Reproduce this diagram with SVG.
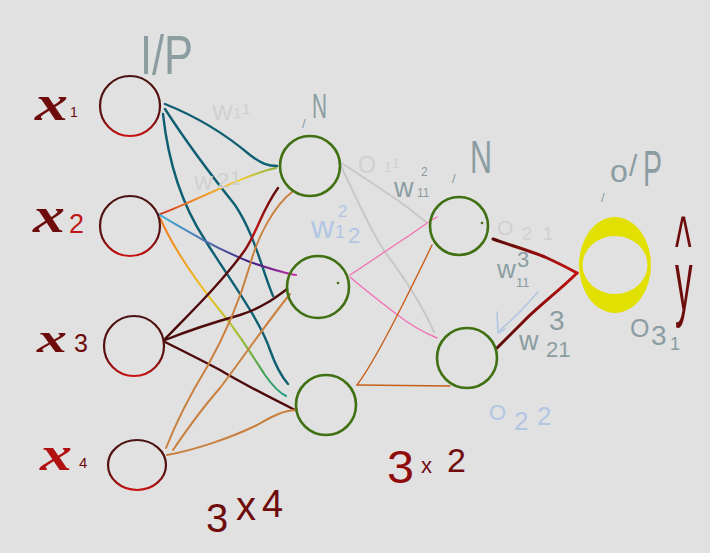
<svg xmlns="http://www.w3.org/2000/svg" width="710" height="553" viewBox="0 0 710 553">
<style>
.in{fill:none;stroke:url(#inGrad);stroke-width:2.2}
.hid{fill:none;stroke:#3f7012;stroke-width:2.6}
.c{fill:none;stroke-linecap:round;stroke-linejoin:round}
.teal{stroke:#0f5f72;stroke-width:2.4}
.maroon{stroke:#4e0a0a;stroke-width:2.4}
.tan{stroke:#c9803f;stroke-width:2}
.gray{stroke:#c8c8c8;stroke-width:2}
.pink{stroke:#f272b4;stroke-width:1.4}
.rust{stroke:#c8601c;stroke-width:1.4}
.out{stroke:url(#outGrad);stroke-width:3}
.g{font-family:"Liberation Sans",Arial,sans-serif;fill:#8b9da1}
.f{font-family:"Liberation Sans",Arial,sans-serif;fill:#d0d0d0}
.lb{font-family:"Liberation Sans",Arial,sans-serif;fill:#b3c6e4}
.r{font-family:"Liberation Serif","Times New Roman",serif;font-style:italic;font-weight:bold;fill:#6e0c0c}
.rs{font-family:"Liberation Sans",Arial,sans-serif;fill:#6e0c0c}
</style>
<defs>
<linearGradient id="inGrad" x1="0" y1="0" x2="0" y2="1">
<stop offset="0" stop-color="#4a1212"/><stop offset="0.65" stop-color="#5a1010"/><stop offset="1" stop-color="#c81212"/>
</linearGradient>
<linearGradient id="outGrad" x1="0" y1="0" x2="1" y2="0">
<stop offset="0" stop-color="#5a0808"/><stop offset="1" stop-color="#c01010"/>
</linearGradient>
<linearGradient id="g21" gradientUnits="userSpaceOnUse" x1="158" y1="215" x2="276" y2="168">
<stop offset="0" stop-color="#d03020"/><stop offset="0.35" stop-color="#f09020"/><stop offset="0.7" stop-color="#f0d040"/><stop offset="1" stop-color="#8cb030"/>
</linearGradient>
<linearGradient id="g22" gradientUnits="userSpaceOnUse" x1="158" y1="214" x2="296" y2="275">
<stop offset="0" stop-color="#40b4d8"/><stop offset="0.4" stop-color="#5068a8"/><stop offset="0.7" stop-color="#3c1c80"/><stop offset="1" stop-color="#c830a8"/>
</linearGradient>
<linearGradient id="g23" gradientUnits="userSpaceOnUse" x1="160" y1="218" x2="286" y2="396">
<stop offset="0" stop-color="#f07820"/><stop offset="0.4" stop-color="#f0c020"/><stop offset="0.65" stop-color="#a0c030"/><stop offset="0.85" stop-color="#40a050"/><stop offset="1" stop-color="#20a088"/>
</linearGradient>
<linearGradient id="g31" gradientUnits="userSpaceOnUse" x1="164" y1="340" x2="278" y2="188">
<stop offset="0" stop-color="#4a0808"/><stop offset="0.55" stop-color="#5a0a0a"/><stop offset="0.75" stop-color="#c01414"/><stop offset="1" stop-color="#5a0a0a"/>
</linearGradient>
</defs>
<rect width="710" height="553" fill="#e1e1e1"/>

<g id="connectors">
<path class="c teal" d="M165,104 C205,120 230,138 250,155 C262,164 268,166 277,166"/>
<path class="c teal" d="M165,109 C185,140 215,180 235,205 C255,235 262,270 273,296"/>
<path class="c teal" d="M163,114 C168,160 182,205 205,240 C230,280 260,320 270,350 C276,367 282,377 288,384"/>
<path class="c" stroke="url(#g21)" stroke-width="2" d="M158,215 C185,205 215,190 240,180 C255,174 265,170 276,168"/>
<path class="c" stroke="url(#g22)" stroke-width="2" d="M158,214 C185,230 215,248 250,262 C268,268 283,273 296,275"/>
<path class="c" stroke="url(#g23)" stroke-width="2" d="M160,218 C172,245 195,280 222,313 C240,335 255,360 265,375 C272,385 278,392 286,396"/>
<path class="c" stroke="url(#g31)" stroke-width="2.4" d="M164,340 C185,318 220,285 245,250 C258,230 262,210 278,188"/>
<path class="c maroon" d="M165,340 C190,330 215,322 240,315 C262,308 275,298 287,289"/>
<path class="c maroon" d="M165,342 C185,352 205,362 220,370 C245,385 265,395 295,410"/>
<path class="c tan" d="M166,448 C175,425 190,395 207,367 C225,335 240,300 250,265 C258,235 275,205 292,192"/>
<path class="c tan" d="M173,450 C190,425 205,405 220,388 C245,355 265,325 290,294"/>
<path class="c tan" d="M167,455 C195,450 230,438 255,426 C270,418 282,410 297,410"/>
<path class="c gray" d="M340,162 C360,175 375,185 390,195 C405,205 415,213 426,222"/>
<path class="c gray" d="M340,164 C355,195 370,230 385,252 C400,272 420,300 434,332"/>
<path class="c pink" d="M350,275 C370,262 390,248 410,235 C420,228 428,222 437,217"/>
<path class="c pink" d="M350,277 C365,290 378,300 395,313 C410,325 425,333 437,338"/>
<path class="c rust" d="M357,385 C372,365 390,330 405,300 C415,280 425,260 432,245"/>
<path class="c rust" d="M357,385 L450,386"/>
<path class="c out" d="M493,239 C510,245 530,251 545,257 C558,263 568,268 577,273"/>
<path class="c out" d="M577,273 C560,290 540,305 525,320 C512,333 503,342 497,348"/>
</g>

<g id="x1"><circle class="in" cx="130" cy="106" r="30"/>
<text class="r" x="35" y="120" font-size="50" textLength="33" lengthAdjust="spacingAndGlyphs">x</text>
<text class="rs" x="70" y="117" font-size="14">1</text></g>
<g id="x2"><circle class="in" cx="130" cy="226" r="30"/>
<text class="r" x="33" y="232" font-size="50" textLength="32" lengthAdjust="spacingAndGlyphs">x</text>
<text class="rs" x="69" y="233" font-size="27" style="fill:#c01818">2</text></g>
<g id="x3"><circle class="in" cx="134" cy="346" r="30"/>
<text class="r" x="37" y="352" font-size="40" textLength="30" lengthAdjust="spacingAndGlyphs">x</text>
<text class="rs" x="74" y="352" font-size="25">3</text></g>
<g id="x4"><ellipse class="in" cx="137" cy="465" rx="29" ry="25"/>
<text class="r" x="40" y="470" font-size="48" textLength="32" lengthAdjust="spacingAndGlyphs" style="fill:#b01010">x</text>
<text class="rs" x="79" y="468" font-size="15">4</text></g>

<g id="h1"><circle class="hid" cx="310" cy="166" r="30"/></g>
<g id="h2"><circle class="hid" cx="318" cy="287" r="31"/><circle cx="338" cy="283" r="1.3" fill="#3f7012"/></g>
<g id="h3"><circle class="hid" cx="326" cy="405" r="30"/></g>
<g id="h4"><circle class="hid" cx="459" cy="226" r="29"/><circle cx="482" cy="223" r="1.3" fill="#3f7012"/></g>
<g id="h5"><circle class="hid" cx="467" cy="358" r="30"/></g>
<g id="output"><path fill="#e2e000" fill-rule="evenodd" d="M579,265 A36,48 0 1,0 651,265 A36,48 0 1,0 579,265 Z M582.5,265 A32.5,29 0 1,0 647.5,265 A32.5,29 0 1,0 582.5,265 Z"/></g>

<g id="labels">
<text class="g" x="140" y="74" font-size="56" textLength="53" lengthAdjust="spacingAndGlyphs">I/P</text>
<text class="g" x="302" y="128" font-size="13">/</text>
<text class="g" x="312" y="118" font-size="35" textLength="15" lengthAdjust="spacingAndGlyphs">N</text>
<text class="g" x="452" y="183" font-size="13">/</text>
<text class="g" x="470" y="173" font-size="46" textLength="22" lengthAdjust="spacingAndGlyphs">N</text>
<text class="g" font-size="13"><tspan x="601" y="202">/</tspan><tspan x="610" y="182" font-size="32">o</tspan><tspan x="629" y="176" font-size="30">/</tspan></text>
<text class="g" x="643" y="186" font-size="50" textLength="19" lengthAdjust="spacingAndGlyphs">P</text>

<text class="f" font-size="15"><tspan x="212" y="120" font-size="22">W</tspan><tspan x="233" y="118">1</tspan><tspan x="242" y="114">1</tspan></text>
<text class="f" font-size="20"><tspan x="194" y="190">W</tspan><tspan x="217" y="188" font-size="22">2</tspan><tspan x="230" y="185">1</tspan></text>
<text class="f" font-size="14"><tspan x="358" y="173" font-size="23">O</tspan><tspan x="384" y="172">1</tspan><tspan x="392" y="168">1</tspan></text>
<text class="f" font-size="18"><tspan x="497" y="235" font-size="21">O</tspan><tspan x="522" y="240">2</tspan><tspan x="543" y="240">1</tspan></text>

<text class="lb" font-size="18"><tspan x="311" y="238" font-size="32">w</tspan><tspan x="335" y="238">1</tspan><tspan x="338" y="217" font-size="17">2</tspan><tspan x="348" y="243" font-size="22">2</tspan></text>
<path class="c" stroke="#b3c6e4" stroke-width="1.6" d="M497,312 L498,333 L505,329 M500,330 C515,318 528,303 538,292"/>
<text class="lb" font-size="22"><tspan x="489" y="420">O</tspan><tspan x="514" y="430" font-size="26">2</tspan><tspan x="537" y="425" font-size="26">2</tspan></text>

<text class="g" font-size="12"><tspan x="394" y="197" font-size="27">w</tspan><tspan x="417" y="197" font-size="12">11</tspan><tspan x="421" y="176">2</tspan></text>
<text class="g" font-size="13"><tspan x="497" y="278" font-size="26">w</tspan><tspan x="517" y="267" font-size="22">3</tspan><tspan x="516" y="287">11</tspan></text>
<text class="g" font-size="22"><tspan x="519" y="350" font-size="27">w</tspan><tspan x="549" y="330" font-size="28">3</tspan><tspan x="546" y="357">21</tspan></text>
<text class="g" font-size="28"><tspan x="630" y="337" font-size="25">O</tspan><tspan x="651" y="345">3</tspan><tspan x="670" y="350" font-size="18">1</tspan></text>

<text class="rs" transform="translate(675,275) scale(0.88,2.15)" font-size="40"><tspan x="0" y="0">^</tspan><tspan x="0" y="16.3">y</tspan></text>

<text class="rs" x="206" y="532" font-size="40">3</text>
<text class="rs" x="236" y="520" font-size="40">x</text>
<text class="rs" x="262" y="517" font-size="38">4</text>
<text class="rs" x="387" y="483" font-size="46" textLength="27" lengthAdjust="spacingAndGlyphs" style="fill:#900c0c">3</text>
<text class="rs" x="421" y="473" font-size="22" style="fill:#700c0c">x</text>
<text class="rs" x="447" y="472" font-size="34" style="fill:#700c0c">2</text>
</g>
</svg>
